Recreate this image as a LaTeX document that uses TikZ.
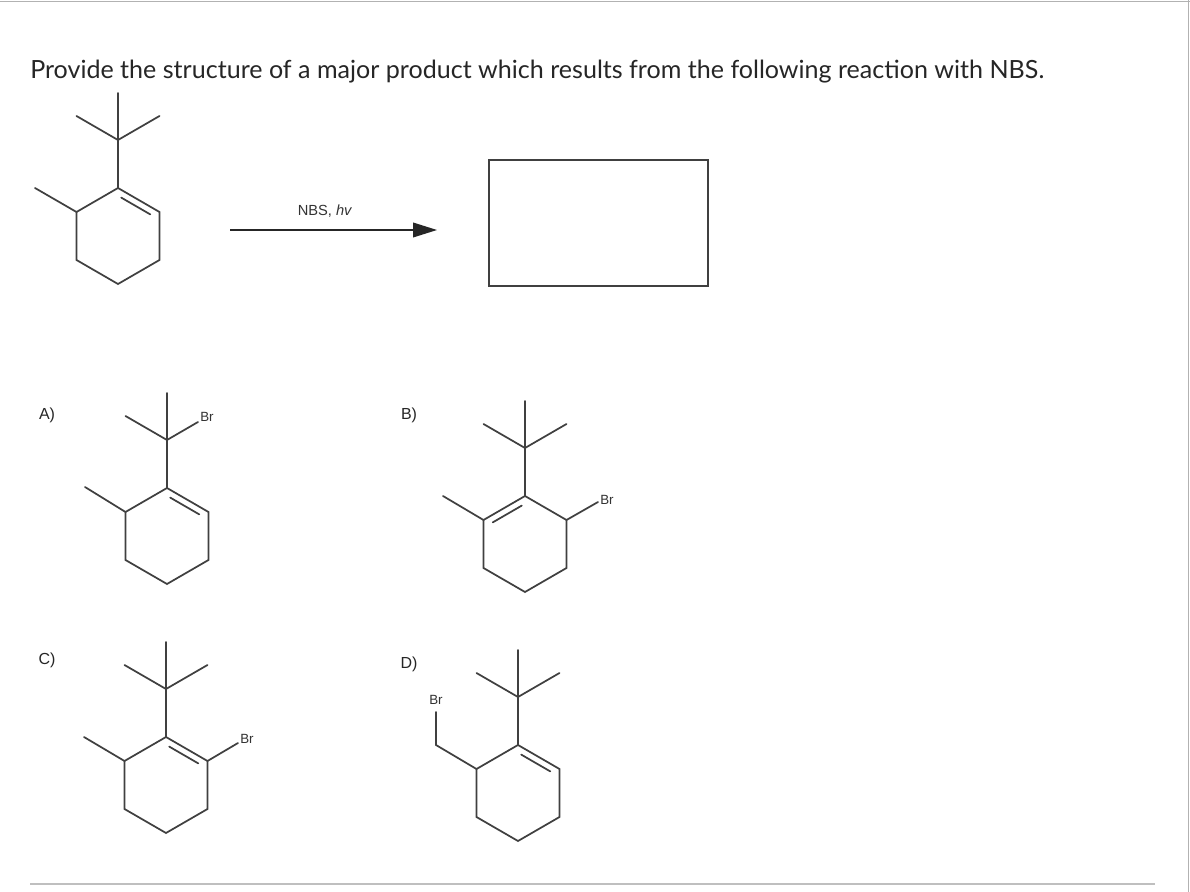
\documentclass[tikz,border=0pt]{standalone}
\usepackage{fontspec}
\setmainfont{Liberation Sans}
\newfontfamily\latofont{Lato}
\usetikzlibrary{arrows.meta,calc}
\tikzset{bond/.style={line width=1.3pt,draw=black!75,line cap=round},
 lbl/.style={font=\fontsize{10}{12}\selectfont,text=black!80,inner sep=0pt},
 opt/.style={font=\fontsize{12}{14}\selectfont,text=black!85,inner sep=0pt}}
\newcommand{\ringbase}{%
 \coordinate (c2) at (0,0); \coordinate (c3) at (41.5,24); \coordinate (c4) at (41.5,72);
 \coordinate (c5) at (0,96); \coordinate (c6) at (-41.5,72); \coordinate (c1) at (-41.5,24);
 \coordinate (q) at (0,-48); \coordinate (qu) at (0,-95); \coordinate (ql) at (-41.5,-72); \coordinate (qr) at (41.5,-72);
 \draw[bond] (c2)--(c3)--(c4)--(c5)--(c6)--(c1)--cycle;
 \draw[bond] (c2)--(q)--(qu); \draw[bond] (ql)--(q);}
\newcommand{\dbright}{\draw[bond] ($(c2)!0.15!(c3)+(-3,6)$)--($(c2)!0.85!(c3)+(-3,6)$);}
\newcommand{\dbleft}{\draw[bond] ($(c2)!0.15!(c1)+(3,6)$)--($(c2)!0.85!(c1)+(3,6)$);}
\begin{document}
\begin{tikzpicture}[x=0.75pt,y=-0.75pt]
\useasboundingbox (0,0) rectangle (1190,892);
\fill[white] (0,0) rectangle (1190,892);
\draw[black!30,line width=1pt] (0,1.5)--(1190,1.5);
\draw[black!30,line width=1pt] (1188.5,0)--(1188.5,892);
\draw[black!25,line width=1pt] (30,884)--(1155,884);
\node[anchor=base west,inner sep=0pt,font=\latofont\fontsize{18.8}{22}\selectfont,text=black!85] (title) at (30,79) {Provide the structure of a major product which results from the following reaction with NBS.};
% reactant
\begin{scope}[shift={(118,188)}]
\ringbase \dbright \draw[bond] (q)--(qr); \draw[bond] (c1)--(-83,0);
\end{scope}
\coordinate (as) at (230,230); \coordinate (ae) at (437,230);
\draw[line width=1.2pt,black!85,-{Triangle[length=18pt,width=11pt]}] (as)--(ae);
\node[lbl,font=\fontsize{11}{13}\selectfont] (cond) at (325,211) {NBS, \textit{hv}};
\node[draw=black!75,line width=1.2pt,minimum width=164pt,minimum height=94.5pt,inner sep=0pt] (box) at (598.5,223) {};
% A
\node[opt] (la) at (47,415) {A)};
\begin{scope}[shift={(167,488)}]
\ringbase \dbright \draw[bond] (q)--(31,-66); \draw[bond] (c1)--(-82,-1);
\node[lbl,anchor=west] (bra) at (33,-71) {Br};
\end{scope}
% B
\node[opt] (lb) at (409,415) {B)};
\begin{scope}[shift={(525,496)}]
\ringbase \dbleft \draw[bond] (q)--(qr); \draw[bond] (c1)--(-82,0);
\draw[bond] (c3)--(73,6); \node[lbl,anchor=west] (brb) at (75,4) {Br};
\end{scope}
% C
\node[opt] (lc) at (47,660) {C)};
\begin{scope}[shift={(166,737)}]
\ringbase \dbright \draw[bond] (q)--(qr); \draw[bond] (c1)--(-82,0);
\draw[bond] (c3)--(72,6); \node[lbl,anchor=west] (brc) at (74,2) {Br};
\end{scope}
% D
\node[opt] (ld) at (409,664) {D)};
\begin{scope}[shift={(518,745)}]
\ringbase \dbright \draw[bond] (q)--(qr);
\draw[bond] (c1)--(-82,0)--(-82,-33); \node[lbl] (brd) at (-82,-45) {Br};
\end{scope}
\end{tikzpicture}
\end{document}
